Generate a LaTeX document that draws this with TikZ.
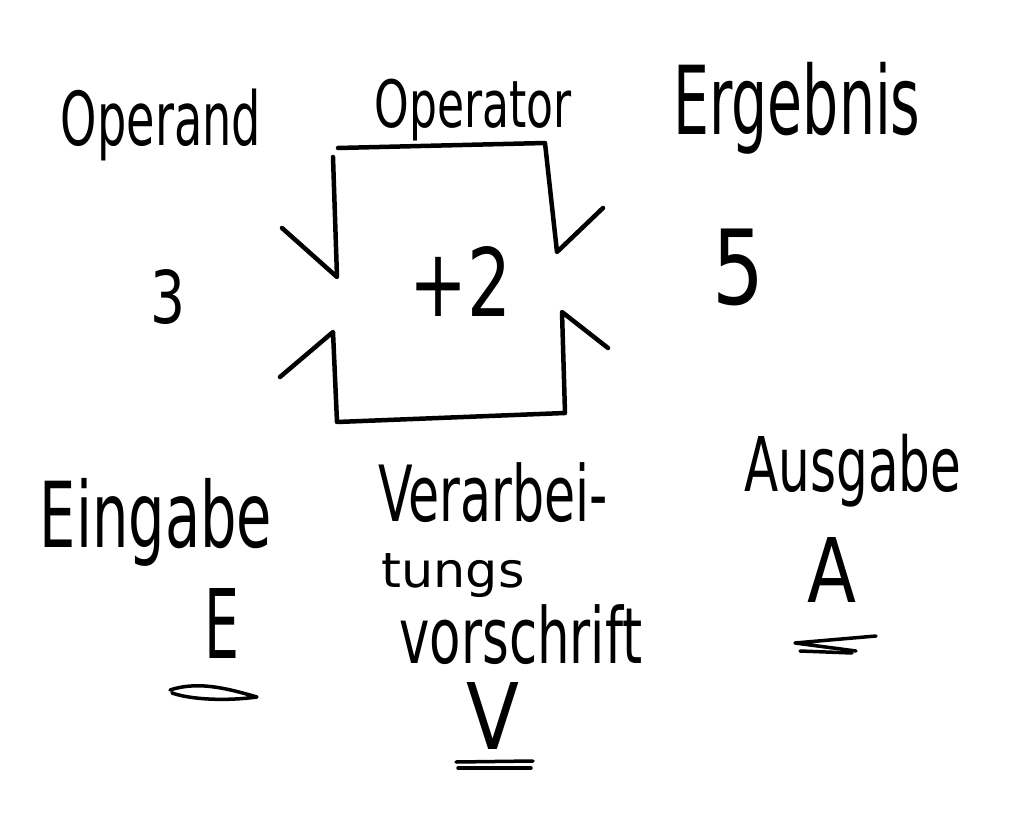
\documentclass[tikz,border=0pt]{standalone}
\usepackage{fontspec}
\setmainfont{DejaVu Sans}
\usepackage{graphicx}
\newcommand{\fitbox}[3]{\resizebox*{#1pt}{#2pt}{#3}}
\begin{document}
\begin{tikzpicture}[x=1pt,y=-1pt,
  pen/.style={line width=4.5pt,line cap=round,line join=round,black},
  thin pen/.style={line width=3.5pt,line cap=round,line join=round,black},
  word/.style={inner sep=0pt,outer sep=0pt,anchor=center}]
\useasboundingbox[fill=white] (0,0) rectangle (1028,834);

% top labels
\node[word] (operand) at (161,125) {\fitbox{200}{72}{Operand}};
\node[word] (operator) at (473,110) {\fitbox{197}{62}{Operator}};
\node[word] (ergebnis) at (797,108) {\fitbox{247}{92}{Ergebnis}};

% values
\node[word] (three) at (168,297) {\fitbox{35}{55}{3}};
\node[word] (plustwo) at (461,282) {\fitbox{102}{70}{+2}};
\node[word] (five) at (739,267) {\fitbox{52}{77}{5}};

% operator box with inlet and outlet
\draw[pen] (333,157) -- (337,277) -- (282,228);
\draw[pen] (338,148) -- (545,143) -- (557,252) -- (603,208);
\draw[pen] (280,377) -- (333,332) -- (337,422) -- (565,413) -- (562,312) -- (608,348);

% bottom labels
\node[word] (eingabe) at (156,522) {\fitbox{232}{88}{Eingabe}};
\node[word] (E) at (222,623) {\fitbox{35}{70}{E}};
\draw[thin pen] (170,690) .. controls (200,680) and (232,690) .. (257,697)
  .. controls (228,701) and (192,700) .. (172,693);

\node[word] (verarb) at (493,493) {\fitbox{230}{60}{Verarbei-}};
\node[word] (tungs) at (453,576) {\fitbox{143}{44}{tungs}};
\node[word] (vorschrift) at (521,635) {\fitbox{243}{60}{vorschrift}};
\node[word] (V) at (493,716) {\fitbox{53}{67}{V}};
\draw[thin pen] (456,762) -- (533,761);
\draw[thin pen] (458,768) -- (531,768);

\node[word] (ausgabe) at (853,471) {\fitbox{217}{73}{Ausgabe}};
\node[word] (A) at (832,570) {\fitbox{49}{65}{A}};
\draw[thin pen] (876,636) -- (795,643) -- (856,651);
\draw[thin pen] (800,651) -- (852,653);
\end{tikzpicture}
\end{document}
